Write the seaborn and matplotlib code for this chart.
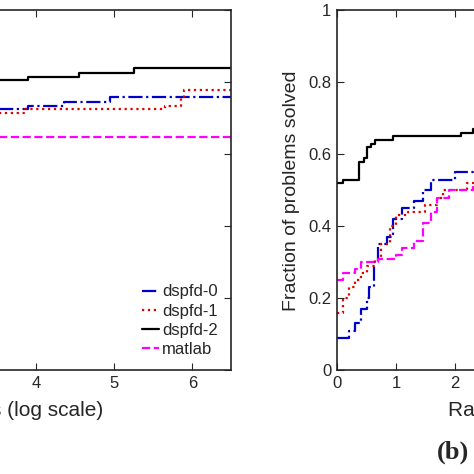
import matplotlib
matplotlib.use("Agg")
import matplotlib.pyplot as plt
import seaborn as sns
import pandas as pd

sns.set_style("ticks")
plt.rcParams['font.family'] = ['Liberation Sans', 'DejaVu Sans']

# Left panel (a)
a_x0 = [0, 1, 2, 3, 3.5, 3.8, 3.9, 4.35, 4.95, 6.5]
a_y0 = [0.70, 0.71, 0.72, 0.725, 0.725, 0.725, 0.735, 0.745, 0.758, 0.758]
a_x1 = [0, 1, 2, 3, 3.5, 3.8, 3.85, 5.65, 5.85, 5.9, 6.5]
a_y1 = [0.69, 0.70, 0.71, 0.715, 0.715, 0.715, 0.725, 0.735, 0.76, 0.778, 0.778]
a_x2 = [0, 1, 2, 3, 3.5, 3.9, 4.55, 5.25, 6.5]
a_y2 = [0.76, 0.78, 0.79, 0.80, 0.808, 0.815, 0.825, 0.839, 0.839]
a_x3 = [0, 6.5]
a_y3 = [0.647, 0.647]

# Right panel (b)
b_x0 = [0, 0.2, 0.3, 0.4, 0.5, 0.55, 0.62, 0.7, 0.85, 0.95, 1.1, 1.3, 1.45, 1.6, 2.0, 2.3, 3.0]
b_y0 = [0.09, 0.11, 0.13, 0.17, 0.20, 0.23, 0.30, 0.35, 0.37, 0.42, 0.45, 0.47, 0.50, 0.53, 0.55, 0.56, 0.56]
b_x1 = [0, 0.1, 0.2, 0.3, 0.4, 0.5, 0.65, 0.75, 0.9, 1.0, 1.2, 1.5, 1.7, 1.8, 2.2, 3.0]
b_y1 = [0.16, 0.20, 0.23, 0.25, 0.27, 0.29, 0.31, 0.35, 0.40, 0.43, 0.44, 0.46, 0.48, 0.50, 0.52, 0.52]
b_x2 = [0, 0.1, 0.35, 0.38, 0.45, 0.5, 0.58, 0.65, 0.95, 2.1, 2.3, 3.0]
b_y2 = [0.52, 0.53, 0.53, 0.58, 0.59, 0.62, 0.63, 0.64, 0.65, 0.66, 0.67, 0.67]
b_x3 = [0, 0.1, 0.3, 0.4, 0.7, 1.0, 1.1, 1.3, 1.45, 1.6, 1.7, 1.9, 2.3, 3.0]
b_y3 = [0.25, 0.27, 0.28, 0.30, 0.31, 0.32, 0.34, 0.36, 0.41, 0.44, 0.48, 0.50, 0.51, 0.51]

names = ["dspfd-0", "dspfd-1", "dspfd-2", "matlab"]
colors = ["#0000cc", "#e00000", "#000000", "#ff00ff"]
styles = ["-.", ":", "-", "--"]

fig = plt.figure(figsize=(4.74, 4.74), dpi=100)
axa = fig.add_axes([-0.582, 0.219, 1.07, 0.759])
axb = fig.add_axes([0.711, 0.219, 1.07, 0.759])

for ax, data in [(axa, [(a_x0, a_y0), (a_x1, a_y1), (a_x2, a_y2), (a_x3, a_y3)]),
                 (axb, [(b_x0, b_y0), (b_x1, b_y1), (b_x2, b_y2), (b_x3, b_y3)])]:
    for (x, y), n, c, s in zip(data, names, colors, styles):
        sns.lineplot(x=x, y=y, ax=ax, color=c, linestyle=s, linewidth=1.6,
                     drawstyle="steps-post", label=n, legend=False)
    ax.set_ylim(0, 1)
    ax.set_yticks([0, 0.2, 0.4, 0.6, 0.8, 1])
    ax.tick_params(direction="in", labelsize=12, top=True, right=True, length=5, pad=4)
    for sp in ax.spines.values():
        sp.set_linewidth(1.2)

axa.set_yticklabels([""] * 6)
axb.set_yticklabels(["0", "0.2", "0.4", "0.6", "0.8", "1"])
axa.set_xlim(0, 6.5)
axa.set_xticks([0, 1, 2, 3, 4, 5, 6])
axa.set_xticklabels(["", "", "", "", "4", "5", "6"])
axb.set_xlim(0, 8.6)
axb.set_xticks([0, 1, 2, 3, 4, 5, 6, 7, 8])
axb.set_xticklabels(["0", "1", "2", "", "", "", "", "", ""])
axb.set_ylabel("Fraction of problems solved", fontsize=14, labelpad=6)
axa.legend(loc="lower right", frameon=False, fontsize=12, handlelength=1.0,
           handletextpad=0.2, labelspacing=0.25, borderaxespad=0.4)

fig.text(103/474, 1 - 410/474, "Number of function evals (log scale)", ha="right", va="center", fontsize=15)
fig.text(448/474, 1 - 410/474, "Ratio of function evaluations", ha="left", va="center", fontsize=15)
fig.text(437/474, 1 - 452/474, "(b)", ha="left", va="center", fontsize=19,
         fontweight="bold", family="Liberation Serif")

fig.savefig("out.png", dpi=100)
